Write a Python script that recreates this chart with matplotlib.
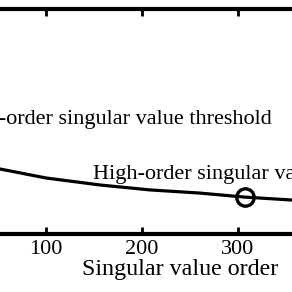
import numpy as np
import matplotlib
matplotlib.use('Agg')
import matplotlib.pyplot as plt

# Singular value curve (y normalised)
order = [52, 100, 156, 208, 260, 307, 356, 400]
value = [0.289, 0.249, 0.218, 0.196, 0.182, 0.164, 0.151, 0.142]

# High-order threshold point
thr_order = 307
thr_value = 0.164

xticks = [0, 100, 200, 300, 400]

plt.rcParams['font.family'] = 'Liberation Serif'

fig = plt.figure(figsize=(2.92, 2.92), dpi=100)
# the axes extend past the picture on the left and right (cropped figure)
ax = fig.add_axes([-50 / 292, 58 / 292, 460.8 / 292, 225 / 292])
ax.set_xlim(0, 480)
ax.set_ylim(0, 1)

ax.plot(order, value, color='black', linewidth=2.3)
ax.plot(thr_order, thr_value, 'o', markersize=12.5, markerfacecolor='none',
        markeredgecolor='black', markeredgewidth=2.4)

ax.text(335, 0.508, 'Low-order singular value threshold', fontsize=16,
        ha='right', va='center')
ax.text(149, 0.264, 'High-order singular value threshold', fontsize=16,
        ha='left', va='center')

ax.set_xticks(xticks)
ax.set_xticklabels([str(t) for t in xticks], fontsize=16)
ax.set_yticks([])
ax.tick_params(axis='x', direction='in', length=5, width=2, top=True, pad=4)
ax.set_xlabel('Singular value order', fontsize=17.3, labelpad=0)
for s in ax.spines.values():
    s.set_linewidth(3)

plt.savefig('out.png', dpi=100)
